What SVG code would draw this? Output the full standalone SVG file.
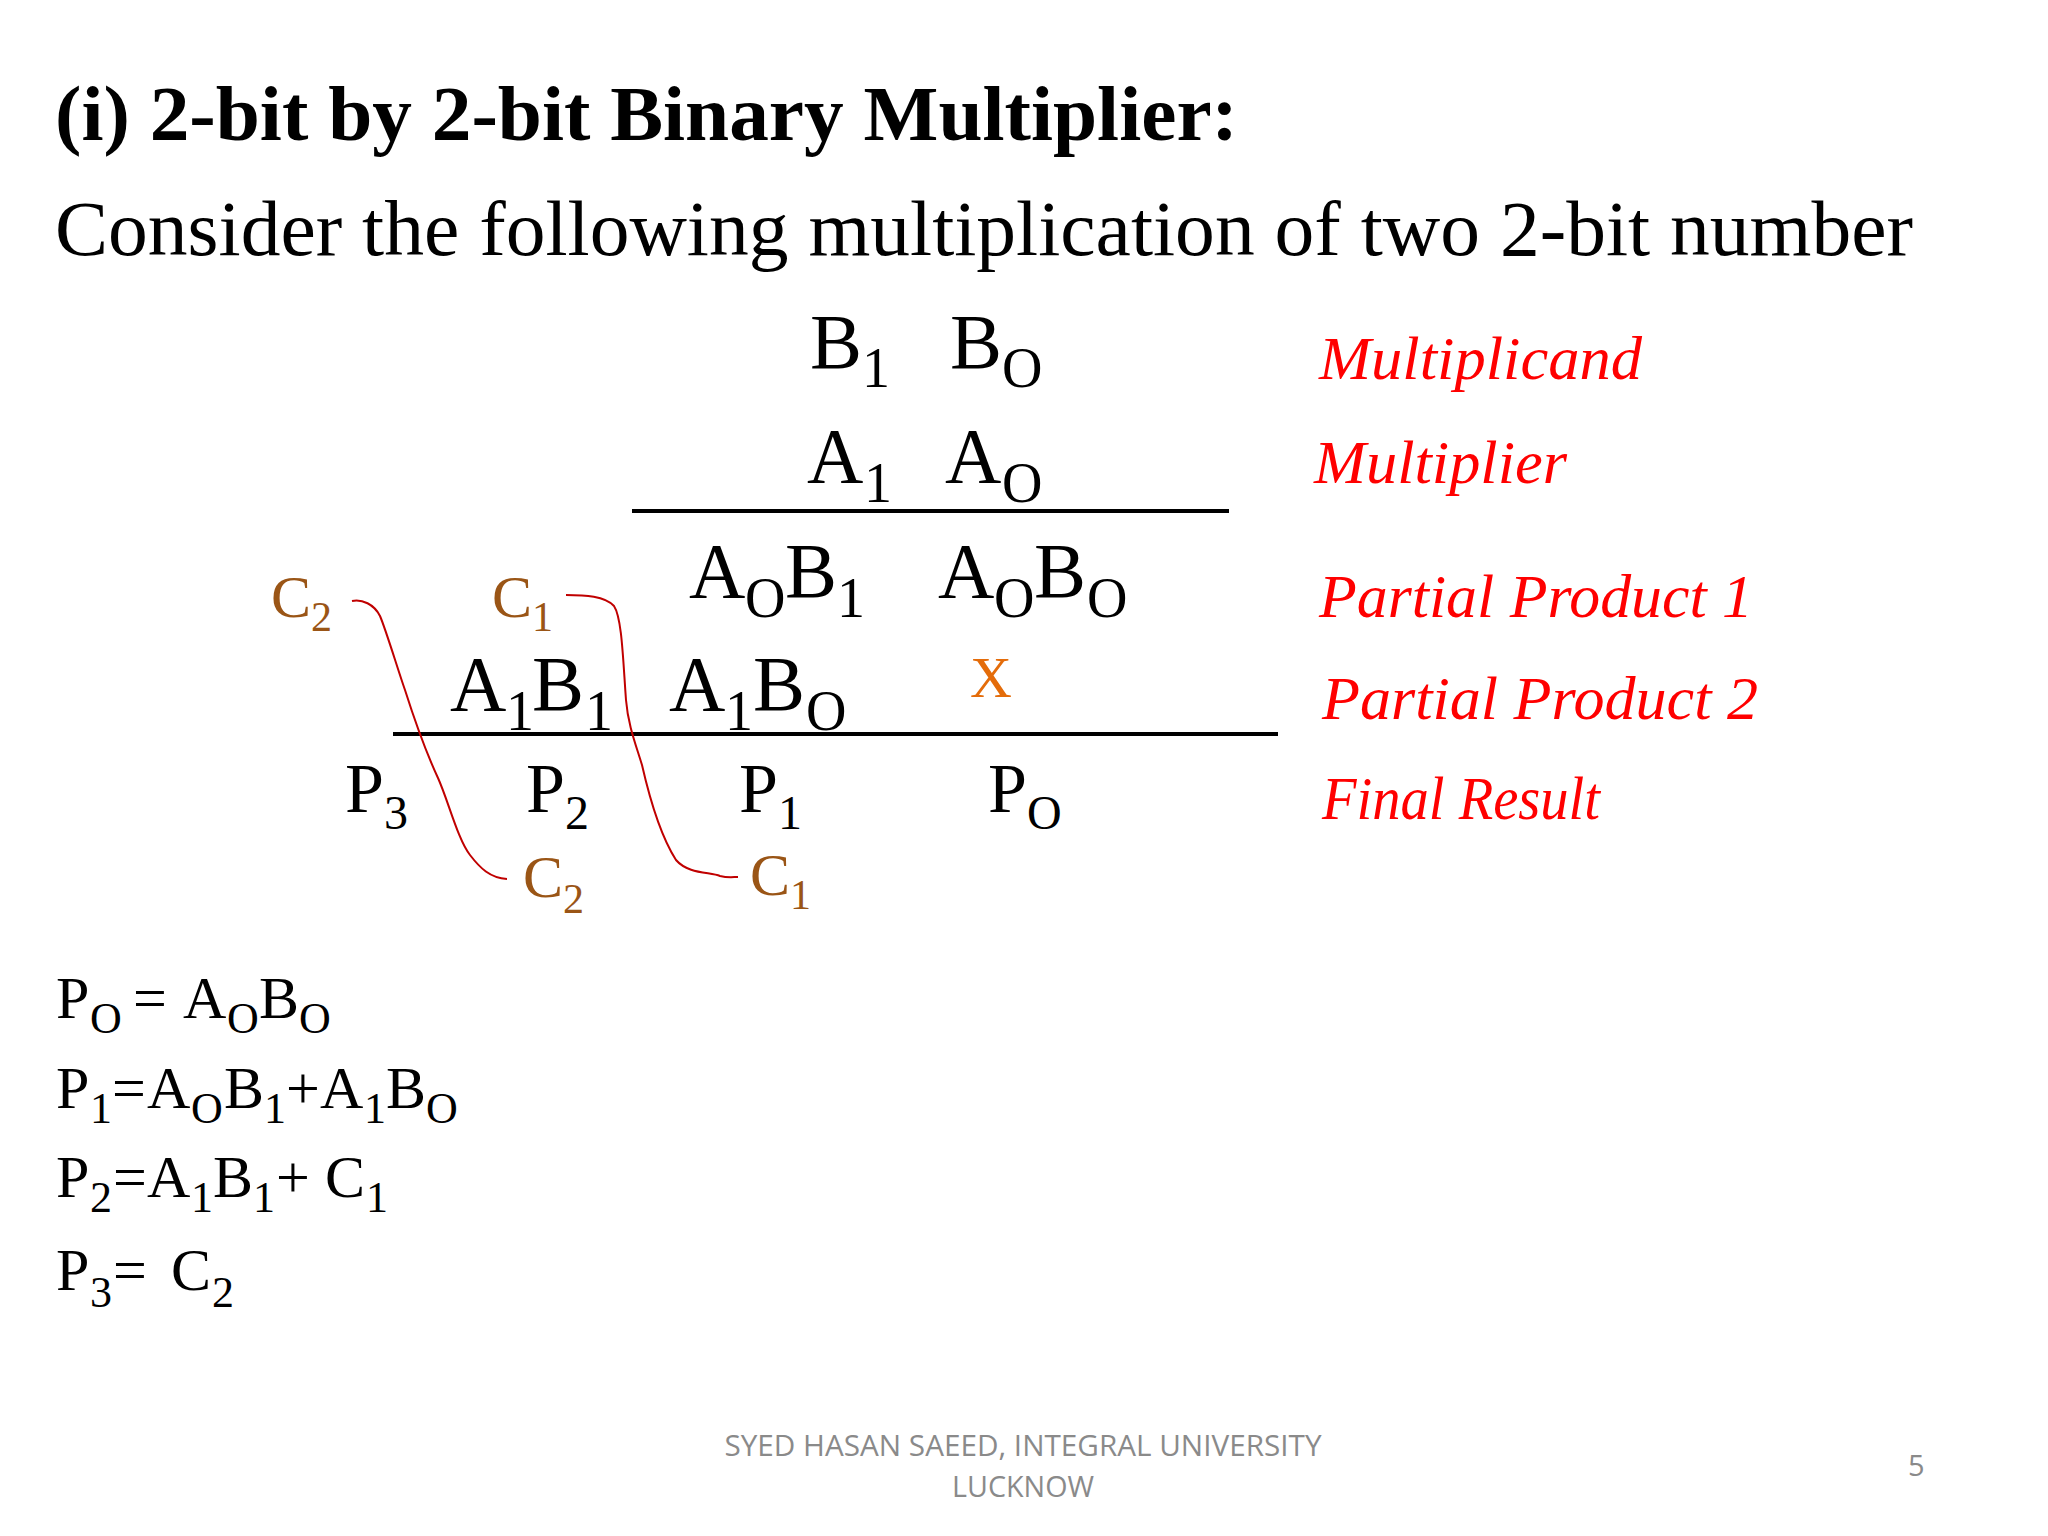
<svg xmlns="http://www.w3.org/2000/svg" width="2048" height="1536" viewBox="0 0 2048 1536">
<style>
.m{font-family:"Liberation Serif","Times New Roman",serif;fill:#000}
.r78{font-size:78px}.s56{font-size:56px}
.lbl{font-family:"Liberation Serif","Times New Roman",serif;font-style:italic;fill:#FF0000;font-size:62px}
.br{font-family:"Liberation Serif","Times New Roman",serif;fill:#9A5516;font-size:60px}
.sb{font-size:42px}
.eq{font-family:"Liberation Serif","Times New Roman",serif;fill:#000;font-size:60px}
.es{font-size:44px}
.ft{font-family:"Open Sans","Liberation Sans",sans-serif;fill:#8A8A8A;font-size:29px}
.rule{stroke:#000;stroke-width:4}
.carry{fill:none;stroke:#C00000;stroke-width:2}
</style>
<rect width="2048" height="1536" fill="#FFFFFF"/>
<g id="title">
<text x="55" y="140" font-family="Liberation Serif, Times New Roman, serif" font-weight="bold" font-size="79" textLength="1183" lengthAdjust="spacingAndGlyphs">(i) 2-bit by 2-bit Binary Multiplier:</text>
<text x="55" y="255" font-family="Liberation Serif, Times New Roman, serif" font-size="79" textLength="1858" lengthAdjust="spacingAndGlyphs">Consider the following multiplication of two 2-bit number</text>
</g>
<g id="multiplicand">
<text class="m r78"><tspan x="810" y="368">B</tspan><tspan class="s56" x="862" y="387">1</tspan><tspan x="950" y="368">B</tspan><tspan class="s56" x="1002" y="387">O</tspan></text>
</g>
<g id="multiplier">
<text class="m r78"><tspan x="807" y="482">A</tspan><tspan class="s56" x="864" y="502">1</tspan><tspan x="945" y="482">A</tspan><tspan class="s56" x="1002" y="502">O</tspan></text>
</g>
<g id="pp1">
<text class="m r78"><tspan x="689" y="597">A</tspan><tspan class="s56" x="745" y="617">O</tspan><tspan x="785" y="597">B</tspan><tspan class="s56" x="837" y="617">1</tspan><tspan x="938" y="597">A</tspan><tspan class="s56" x="994" y="617">O</tspan><tspan x="1034" y="597">B</tspan><tspan class="s56" x="1087" y="617">O</tspan></text>
</g>
<g id="pp2">
<text class="m r78"><tspan x="450" y="710">A</tspan><tspan class="s56" x="506" y="730">1</tspan><tspan x="532" y="710">B</tspan><tspan class="s56" x="585" y="730">1</tspan><tspan x="669" y="710">A</tspan><tspan class="s56" x="725" y="730">1</tspan><tspan x="753" y="710">B</tspan><tspan class="s56" x="806" y="730">O</tspan></text>
<text x="970" y="697" font-family="Liberation Serif, Times New Roman, serif" font-size="58" fill="#E46C0A">X</text>
</g>
<g id="result">
<text class="m" font-size="70"><tspan x="345" y="812">P</tspan><tspan font-size="48" x="384" y="829">3</tspan><tspan x="526" y="812">P</tspan><tspan font-size="48" x="565" y="829">2</tspan><tspan x="739" y="812">P</tspan><tspan font-size="48" x="778" y="829">1</tspan><tspan x="988" y="812">P</tspan><tspan font-size="48" x="1027" y="829">O</tspan></text>
</g>
<g id="carries">
<text class="br"><tspan x="271" y="617">C</tspan><tspan class="sb" x="311" y="631">2</tspan></text>
<text class="br"><tspan x="492" y="617">C</tspan><tspan class="sb" x="532" y="631">1</tspan></text>
<text class="br"><tspan x="523" y="897">C</tspan><tspan class="sb" x="563" y="913">2</tspan></text>
<text class="br"><tspan x="750" y="895">C</tspan><tspan class="sb" x="790" y="909">1</tspan></text>
</g>
<g id="rules">
<line class="rule" x1="632" y1="511" x2="1229" y2="511"/>
<line class="rule" x1="393" y1="734" x2="1278" y2="734"/>
</g>
<g id="connectors">
<path class="carry" d="M352,601 C362,599 374,604 380,616 C386,630 398,670 405,690 C412,712 425,750 438,778 C448,800 458,840 470,855 C480,868 490,878 507,879"/>
<path class="carry" d="M566,595 C585,595 605,596 614,606 C622,618 623,660 626,700 C628,725 636,745 642,765 C650,800 660,835 676,860 C688,874 710,872 720,876 C728,878 733,877 738,877"/>
</g>
<g id="labels">
<text class="lbl" x="1319" y="379" textLength="323" lengthAdjust="spacingAndGlyphs">Multiplicand</text>
<text class="lbl" x="1314" y="483" textLength="253" lengthAdjust="spacingAndGlyphs">Multiplier</text>
<text class="lbl" x="1319" y="617" textLength="434" lengthAdjust="spacingAndGlyphs">Partial Product 1</text>
<text class="lbl" x="1322" y="719" textLength="436" lengthAdjust="spacingAndGlyphs">Partial Product 2</text>
<text class="lbl" x="1322" y="819" textLength="278" lengthAdjust="spacingAndGlyphs">Final Result</text>
</g>
<g id="equations">
<text class="eq"><tspan x="56" y="1018">P</tspan><tspan class="es" x="90" y="1033">O</tspan><tspan x="133" y="1018">=</tspan><tspan x="183" y="1018">A</tspan><tspan class="es" x="227" y="1033">O</tspan><tspan x="259" y="1018">B</tspan><tspan class="es" x="299" y="1033">O</tspan></text>
<text class="eq"><tspan x="56" y="1108">P</tspan><tspan class="es" x="90" y="1123">1</tspan><tspan x="112" y="1108">=</tspan><tspan x="147" y="1108">A</tspan><tspan class="es" x="191" y="1123">O</tspan><tspan x="224" y="1108">B</tspan><tspan class="es" x="264" y="1123">1</tspan><tspan x="286" y="1108">+</tspan><tspan x="320" y="1108">A</tspan><tspan class="es" x="364" y="1123">1</tspan><tspan x="386" y="1108">B</tspan><tspan class="es" x="426" y="1123">O</tspan></text>
<text class="eq"><tspan x="56" y="1197">P</tspan><tspan class="es" x="90" y="1212">2</tspan><tspan x="113" y="1197">=</tspan><tspan x="147" y="1197">A</tspan><tspan class="es" x="191" y="1212">1</tspan><tspan x="213" y="1197">B</tspan><tspan class="es" x="253" y="1212">1</tspan><tspan x="276" y="1197">+</tspan><tspan x="325" y="1197">C</tspan><tspan class="es" x="366" y="1212">1</tspan></text>
<text class="eq"><tspan x="56" y="1290">P</tspan><tspan class="es" x="90" y="1307">3</tspan><tspan x="113" y="1290">=</tspan><tspan x="171" y="1290">C</tspan><tspan class="es" x="212" y="1307">2</tspan></text>
</g>
<g id="footer">
<text class="ft" x="1023" y="1456" text-anchor="middle" textLength="597" lengthAdjust="spacingAndGlyphs">SYED HASAN SAEED, INTEGRAL UNIVERSITY</text>
<text class="ft" x="1023" y="1497" text-anchor="middle" textLength="142" lengthAdjust="spacingAndGlyphs">LUCKNOW</text>
<text class="ft" x="1908" y="1476">5</text>
</g>
</svg>
